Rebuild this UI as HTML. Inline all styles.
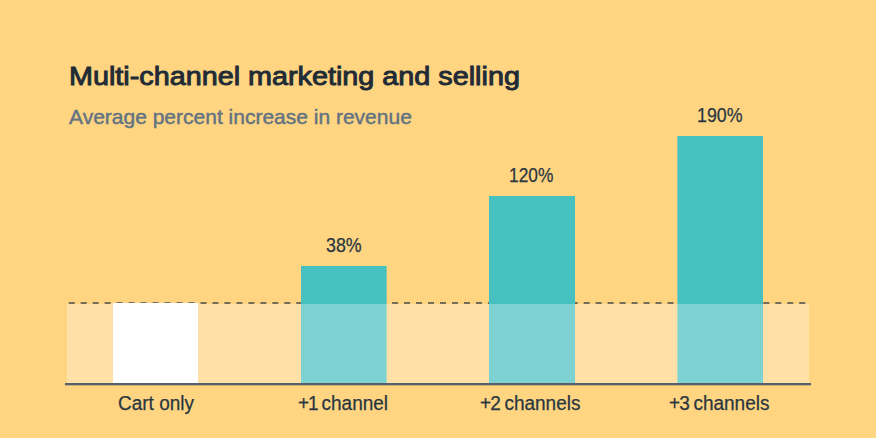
<!DOCTYPE html>
<html><head><meta charset="utf-8">
<style>
html,body{margin:0;padding:0;}
body{width:876px;height:438px;overflow:hidden;background:#FFD582;position:relative;font-family:"Liberation Sans",sans-serif;}
.a{position:absolute;}
.t{position:absolute;white-space:nowrap;line-height:1;transform-origin:0 0;}
#title{left:68.8px;top:62.8px;font-size:27.5px;font-weight:normal;color:#212B36;-webkit-text-stroke:1px #212B36;transform:scale(1.046,0.95);}
#sub{left:69px;top:106px;font-size:21px;color:#637381;-webkit-text-stroke:0.45px #637381;}
.val{font-size:20px;color:#2A3640;-webkit-text-stroke:0.25px #2A3640;transform:scaleX(0.89);}
.cat{font-size:20px;color:#2A3640;-webkit-text-stroke:0.25px #2A3640;transform:scaleX(0.95);}
</style></head><body>
<div id="title" class="t">Multi-channel marketing and selling</div>
<div id="sub" class="t">Average percent increase in revenue</div>

<svg class="a" style="left:0;top:0" width="876" height="438" shape-rendering="geometricPrecision">
<line x1="68.75" y1="303" x2="807" y2="303" stroke="#736D5A" stroke-width="2" stroke-dasharray="6 5.975"/>
<rect x="301" y="266" width="85.6" height="117" fill="#47C1BF"/>
<rect x="489" y="196" width="86" height="187" fill="#47C1BF"/>
<rect x="677.4" y="136" width="85.6" height="247" fill="#47C1BF"/>
<rect x="67" y="304" width="742" height="79" fill="#fff" fill-opacity="0.3"/>
<rect x="113" y="303" width="85" height="80" fill="#fff"/>
<rect x="65" y="383" width="746" height="2.3" fill="#56606B"/>
</svg>
<div class="t val" style="left:325.6px;top:234.6px;">38%</div>
<div class="t val" style="left:509.3px;top:164.6px;transform:scaleX(0.866);">120%</div>
<div class="t val" style="left:697.2px;top:104.6px;">190%</div>

<div class="t cat" style="left:117.5px;top:392.5px;">Cart only</div>
<div class="t cat" style="left:297.9px;top:392.5px;"><span style="letter-spacing:-1.2px">+1 </span>channel</div>
<div class="t cat" style="left:480px;top:392.5px;"><span style="letter-spacing:-0.9px">+2 </span>channels</div>
<div class="t cat" style="left:669px;top:392.5px;"><span style="letter-spacing:-0.9px">+3 </span>channels</div>
</body></html>
